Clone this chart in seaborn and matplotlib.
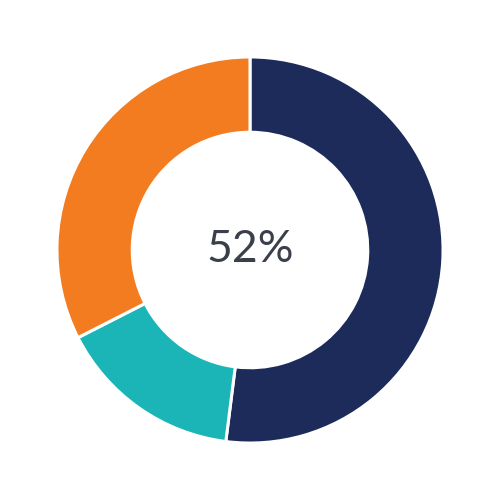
import matplotlib.pyplot as plt
import seaborn as sns

# DATA
segments = ['Navy', 'Teal', 'Orange']
shares = [52, 15.5, 32.5]
colors = ['#1c2b5a', '#1bb5b8', '#f47c20']
center_label = '52%'

sns.set_theme(style='white')
plt.rcParams['font.family'] = ['Lato', 'DejaVu Sans']

fig = plt.figure(figsize=(5, 5), dpi=100)
ax = fig.add_axes([0, 0, 1, 1])

palette = sns.color_palette(colors)
ax.pie(shares, colors=palette, startangle=90, counterclock=False,
       wedgeprops=dict(width=0.39, edgecolor='white', linewidth=2.2))

ax.text(0, 0.005, center_label, ha='center', va='center', fontsize=32,
        color='#3a3f4a', fontweight='normal')

ax.set_xlim(-1.295, 1.295)
ax.set_ylim(-1.295, 1.295)
ax.set_aspect('equal')
ax.axis('off')

plt.savefig('out.png', dpi=100, facecolor='white')
